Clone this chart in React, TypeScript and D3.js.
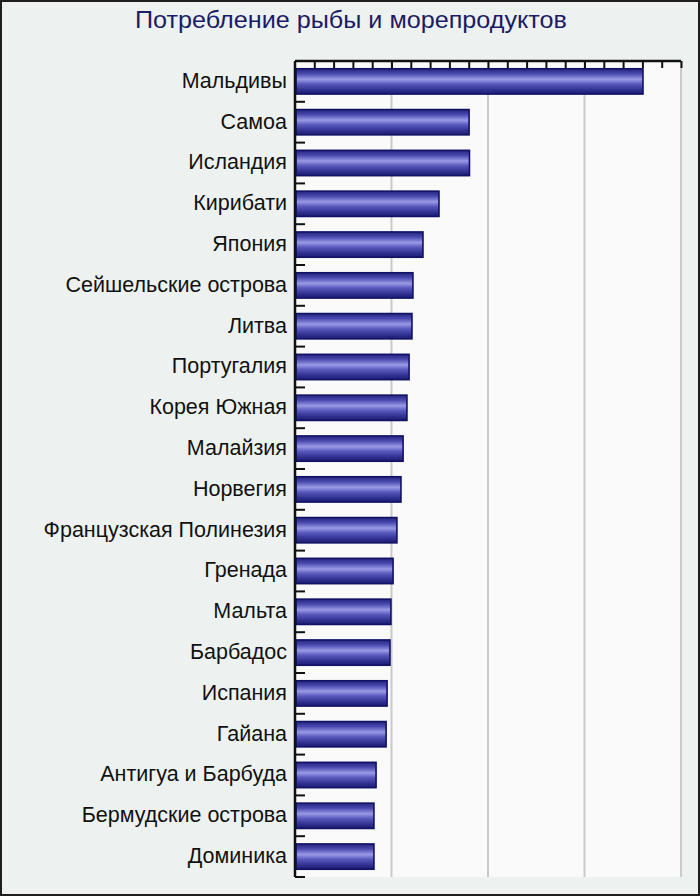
import React, { useEffect, useRef } from 'react';
import * as d3 from 'd3';

const countries = [
  'Мальдивы', 'Самоа', 'Исландия', 'Кирибати', 'Япония',
  'Сейшельские острова', 'Литва', 'Португалия', 'Корея Южная', 'Малайзия',
  'Норвегия', 'Французская Полинезия', 'Гренада', 'Мальта', 'Барбадос',
  'Испания', 'Гайана', 'Антигуа и Барбуда', 'Бермудские острова', 'Доминика',
];
const consumption = [
  180.3, 90.2, 90.4, 74.6, 66.3,
  61.1, 60.6, 59.1, 58.0, 56.0,
  54.9, 52.8, 50.8, 49.7, 49.2,
  47.7, 47.2, 42.0, 40.9, 40.9,
];
const title = 'Потребление рыбы и морепродуктов';

const App = () => {
  const ref = useRef<SVGSVGElement | null>(null);

  useEffect(() => {
    const W = 700;
    const H = 896;
    const margin = { top: 61, right: 19, bottom: 19, left: 295 };
    const width = W - margin.left - margin.right;
    const height = H - margin.top - margin.bottom;

    const svg = d3.select(ref.current);
    svg.selectAll('*').remove();

    // gradient for the bars
    const defs = svg.append('defs');
    const grad = defs.append('linearGradient')
      .attr('id', 'barGrad')
      .attr('x1', 0).attr('y1', 0).attr('x2', 0).attr('y2', 1);
    [
      [0, '#24247e'], [0.2, '#4a4ab0'], [0.42, '#9a9ae6'],
      [0.6, '#5a5abf'], [0.85, '#2e2e8e'], [1, '#1c1c70'],
    ].forEach(([o, c]) => grad.append('stop').attr('offset', o as number).attr('stop-color', c as string));

    // outer background and frame
    svg.append('rect')
      .attr('x', 1).attr('y', 1).attr('width', W - 2).attr('height', H - 2)
      .attr('fill', '#edf2f0').attr('stroke', '#1e1e1e').attr('stroke-width', 2);

    svg.append('text')
      .attr('x', 351).attr('y', 27.5)
      .attr('text-anchor', 'middle')
      .attr('font-family', '"Liberation Sans", Arial, sans-serif')
      .attr('font-size', 24)
      .attr('textLength', 432)
      .attr('lengthAdjust', 'spacingAndGlyphs')
      .attr('fill', '#1b1b66')
      .text(title);

    const g = svg.append('g').attr('transform', `translate(${margin.left},${margin.top})`);

    g.append('rect')
      .attr('width', width).attr('height', height)
      .attr('fill', '#fafafa');

    const x = d3.scaleLinear().domain([0, 200]).range([0, width]);
    const y = d3.scaleBand().domain(countries).range([0, height]).paddingInner(0.38).paddingOuter(0.19);

    // gridlines
    g.selectAll('.grid')
      .data([50, 100, 150, 200])
      .enter().append('line')
      .attr('x1', d => x(d)).attr('x2', d => x(d))
      .attr('y1', 0).attr('y2', height)
      .attr('stroke', '#c9c9c9').attr('stroke-width', 2);

    // bars
    g.selectAll('.bar')
      .data(countries)
      .enter().append('rect')
      .attr('x', 1)
      .attr('y', d => y(d) as number)
      .attr('width', (d, i) => x(consumption[i]) - 1)
      .attr('height', y.bandwidth())
      .attr('fill', 'url(#barGrad)')
      .attr('stroke', '#111165')
      .attr('stroke-width', 1.6);

    // top axis
    const topAxis = g.append('g')
      .call(d3.axisBottom(x).tickValues(d3.range(10, 201, 10)).tickSize(7).tickFormat(() => ''));
    topAxis.select('.domain').attr('stroke', '#111').attr('stroke-width', 2.5).attr('d', `M0,0H${width}`);
    topAxis.selectAll('.tick line').attr('stroke', '#111').attr('stroke-width', 2);
    topAxis.selectAll('.tick text').remove();

    // left axis with ticks between categories
    g.append('line')
      .attr('x1', 0).attr('x2', 0).attr('y1', 0).attr('y2', height)
      .attr('stroke', '#111').attr('stroke-width', 2.5);
    const step = height / countries.length;
    g.selectAll('.ytick')
      .data(d3.range(1, countries.length + 1))
      .enter().append('line')
      .attr('x1', 0).attr('x2', 10)
      .attr('y1', d => d * step).attr('y2', d => d * step)
      .attr('stroke', '#111').attr('stroke-width', 2);

    // category labels
    g.selectAll('.label')
      .data(countries)
      .enter().append('text')
      .attr('x', -8)
      .attr('y', d => (y(d) as number) + y.bandwidth() / 2)
      .attr('dy', '0.3em')
      .attr('text-anchor', 'end')
      .attr('font-family', '"Liberation Sans", Arial, sans-serif')
      .attr('font-size', 21.5)
      .attr('fill', '#111')
      .text(d => d);
  }, []);

  return (
    <svg ref={ref} width={700} height={896} style={{ position: 'absolute', left: 0, top: 0 }} />
  );
};

export default App;
